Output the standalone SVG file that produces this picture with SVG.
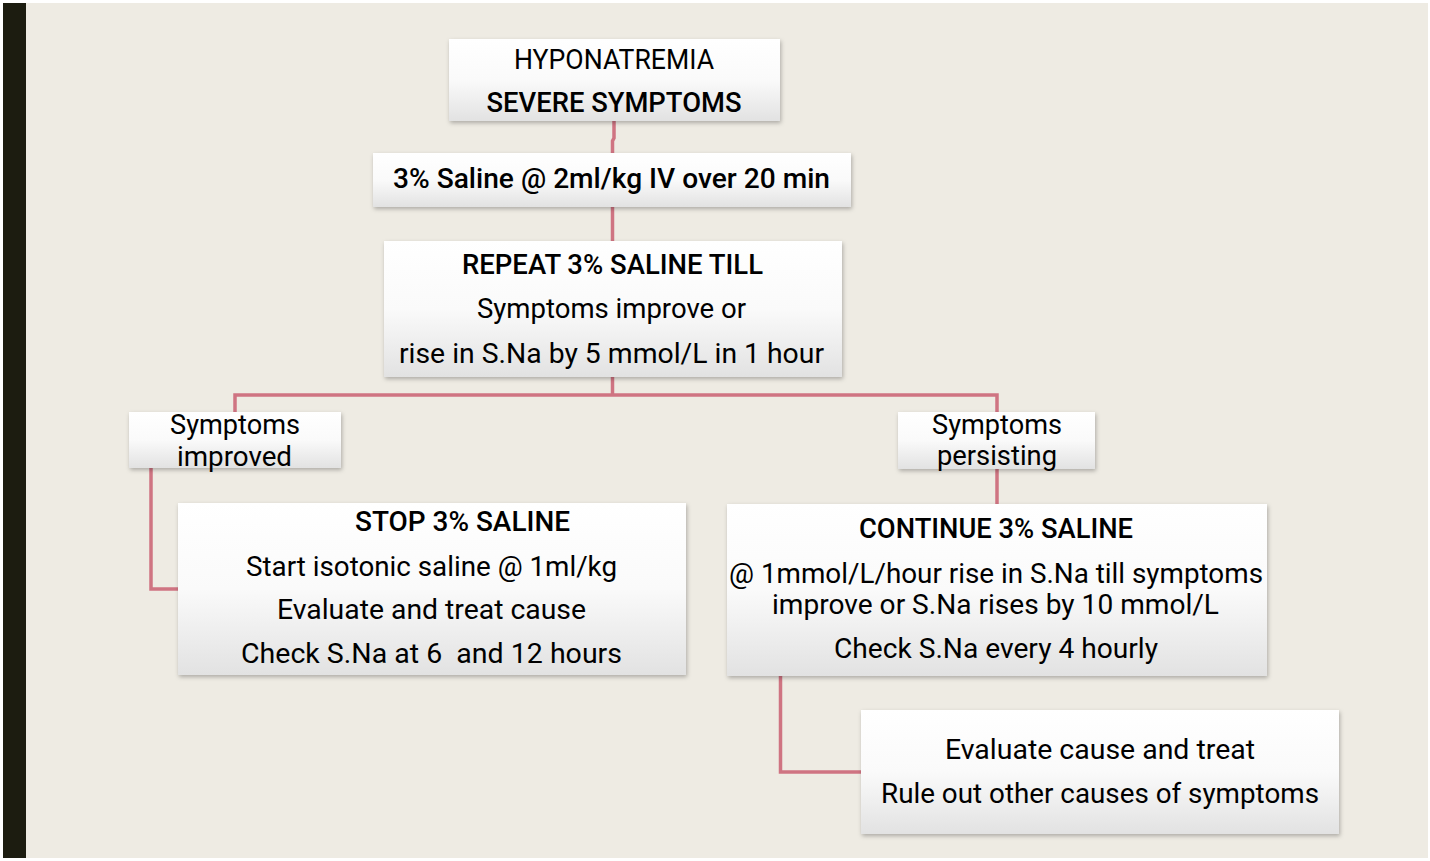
<svg xmlns="http://www.w3.org/2000/svg" width="1430" height="861" viewBox="0 0 1430 861">
<defs>
<linearGradient id="g" x1="0" y1="0" x2="0" y2="1">
<stop offset="0" stop-color="#FFFFFF"/>
<stop offset="0.5" stop-color="#FAFAFA"/>
<stop offset="1" stop-color="#E2E2E2"/>
</linearGradient>
<filter id="sh" x="-10%" y="-20%" width="120%" height="150%">
<feDropShadow dx="1" dy="2" stdDeviation="2" flood-color="#000" flood-opacity="0.28"/>
</filter>
</defs>
<style>
.box{fill:url(#g);filter:url(#sh)}
text{font-family:Roboto,"Liberation Sans",sans-serif;font-size:27.5px;fill:#000;text-anchor:middle}
.b{font-weight:500}
.pre{white-space:pre}
.c{fill:none;stroke:#CF7482;stroke-width:3.5}
</style>
<rect x="0" y="0" width="1430" height="861" fill="#FFFFFF"/>
<rect x="3" y="3" width="1425" height="855" fill="#EEEBE3"/>
<rect x="3" y="3" width="23" height="855" fill="#1C1C10"/>
<g id="connectors">
<path class="c" d="M614,121 V138 L612.5,141 V153"/>
<path class="c" d="M612.5,207 V241"/>
<path class="c" d="M612.5,377 V395"/>
<path class="c" d="M235,412 V395 H997 V412"/>
<path class="c" d="M997,469 V504"/>
<path class="c" d="M151,468 V589 H178"/>
<path class="c" d="M780.5,676 V772 H861"/>
</g>
<g id="n1">
<rect class="box" x="449" y="39" width="331" height="82"/>
<text x="614" y="69" textLength="200" lengthAdjust="spacingAndGlyphs">HYPONATREMIA</text>
<text class="b" x="614" y="112" textLength="255" lengthAdjust="spacingAndGlyphs">SEVERE SYMPTOMS</text>
</g>
<g id="n2">
<rect class="box" x="373" y="153" width="478" height="54"/>
<text class="b" x="611.5" y="188" textLength="437" lengthAdjust="spacingAndGlyphs">3% Saline @ 2ml/kg IV over 20 min</text>
</g>
<g id="n3">
<rect class="box" x="384" y="241" width="458" height="136"/>
<text class="b" x="612.5" y="274" textLength="301" lengthAdjust="spacingAndGlyphs">REPEAT 3% SALINE TILL</text>
<text x="611.5" y="318" textLength="269" lengthAdjust="spacingAndGlyphs">Symptoms improve or</text>
<text x="611.5" y="363" textLength="425" lengthAdjust="spacingAndGlyphs">rise in S.Na by 5 mmol/L in 1 hour</text>
</g>
<g id="n4">
<rect class="box" x="129" y="412" width="212" height="56"/>
<text x="235" y="434" textLength="130" lengthAdjust="spacingAndGlyphs">Symptoms</text>
<text x="234.5" y="466" textLength="115" lengthAdjust="spacingAndGlyphs">improved</text>
</g>
<g id="n5">
<rect class="box" x="898" y="412" width="197" height="57"/>
<text x="997" y="434" textLength="130" lengthAdjust="spacingAndGlyphs">Symptoms</text>
<text x="997" y="465" textLength="120" lengthAdjust="spacingAndGlyphs">persisting</text>
</g>
<g id="n6">
<rect class="box" x="178" y="503" width="508" height="172"/>
<text class="b" x="462.5" y="531" textLength="215" lengthAdjust="spacingAndGlyphs">STOP 3% SALINE</text>
<text x="431.5" y="576" textLength="371" lengthAdjust="spacingAndGlyphs">Start isotonic saline @ 1ml/kg</text>
<text x="431.5" y="619" textLength="309" lengthAdjust="spacingAndGlyphs">Evaluate and treat cause</text>
<text class="pre" x="431.5" y="663" textLength="381" lengthAdjust="spacingAndGlyphs">Check S.Na at 6  and 12 hours</text>
</g>
<g id="n7">
<rect class="box" x="727" y="504" width="540" height="172"/>
<text class="b" x="996" y="538" textLength="274" lengthAdjust="spacingAndGlyphs">CONTINUE 3% SALINE</text>
<text x="996" y="583" textLength="534" lengthAdjust="spacingAndGlyphs">@ 1mmol/L/hour rise in S.Na till symptoms</text>
<text x="995.5" y="614" textLength="447" lengthAdjust="spacingAndGlyphs">improve or S.Na rises by 10 mmol/L</text>
<text x="996" y="658" textLength="324" lengthAdjust="spacingAndGlyphs">Check S.Na every 4 hourly</text>
</g>
<g id="n8">
<rect class="box" x="861" y="710" width="478" height="124"/>
<text x="1100" y="759" textLength="310" lengthAdjust="spacingAndGlyphs">Evaluate cause and treat</text>
<text x="1100" y="803" textLength="438" lengthAdjust="spacingAndGlyphs">Rule out other causes of symptoms</text>
</g>
</svg>
